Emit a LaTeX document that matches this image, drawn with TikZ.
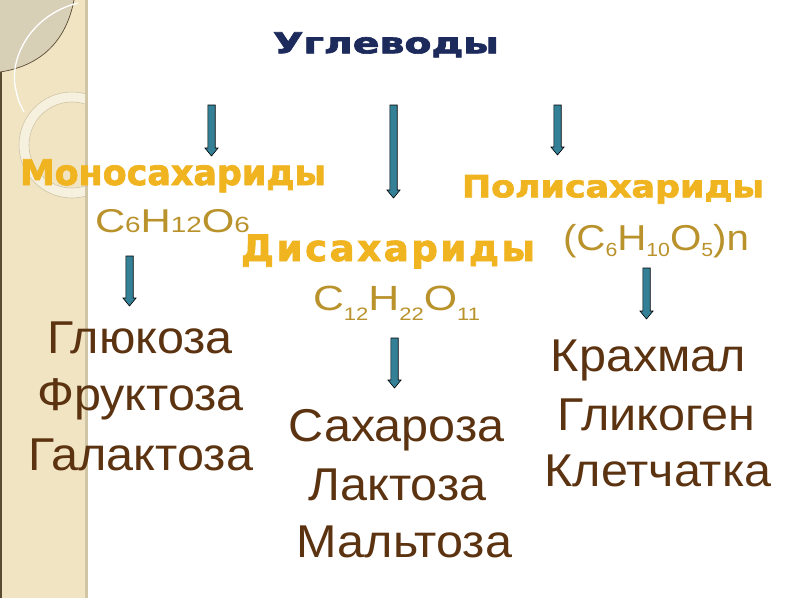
\documentclass[tikz,border=0pt]{standalone}
\usepackage{fontspec}
\usepackage{graphicx}
\setmainfont{Liberation Sans}
\newfontfamily\headfont{DejaVu Sans}[BoldFeatures={FakeBold=2.2}]
\usetikzlibrary{calc}
\definecolor{titlenavy}{RGB}{28,42,92}
\definecolor{headgold}{RGB}{240,180,32}
\definecolor{formgold}{RGB}{185,146,43}
\definecolor{bodybrown}{RGB}{92,51,17}
\definecolor{arrowteal}{RGB}{52,128,150}
\definecolor{stripbeige}{RGB}{240,228,195}
\definecolor{stripgrey}{RGB}{216,207,183}
\definecolor{stripedge}{RGB}{208,197,165}
\definecolor{stripdark}{RGB}{90,74,50}
\newcommand\barr[2]{%
  \draw[blockarrow] let \p1=(#1), \p2=(#2) in
    (\x1-3.7pt,\y1) -- (\x1+3.7pt,\y1) -- (\x1+3.7pt,\y2+8pt) --
    (\x1+6.6pt,\y2+8pt) -- (\x1,\y2) -- (\x1-6.6pt,\y2+8pt) --
    (\x1-3.7pt,\y2+8pt) -- cycle;}
\newcommand\fsz[1]{\fontsize{#1}{#1}\selectfont}
\newcommand\fsb[3]{\raisebox{-#3}{\fsz{#2}#1}}
\newcommand\bodystretch[1]{\scalebox{1.055}[1]{#1}}
\tikzset{
  txt/.style={inner sep=0pt, outer sep=0pt},
  titletxt/.style={txt, text=titlenavy},
  headtxt/.style={txt, text=headgold},
  formtxt/.style={txt, text=formgold},
  bodytxt/.style={txt, text=bodybrown, font=\fsz{46}, anchor=base},
  blockarrow/.style={fill=arrowteal, draw=black, line width=0.6pt, line join=miter}
}
\begin{document}
\begin{tikzpicture}[x=1pt,y=-1pt]
\useasboundingbox (0,0) rectangle (800,600);
\fill[white] (0,0) rectangle (800,600);
% decorative strip
\fill[stripbeige] (0,0) rectangle (86,598);
\fill[stripedge] (84.5,0) rectangle (88,598);
\fill[stripgrey] (0,0) -- (74,0) .. controls (66,42) and (40,66) .. (0,72) -- cycle;
\draw[stripdark, line width=0.7pt] (74,0) .. controls (66,42) and (40,66) .. (0,72);
\fill[stripdark] (0,72) rectangle (1.5,598);
\begin{scope}
  \clip (0,0) rectangle (85,598);
  \fill[white, opacity=0.45, even odd rule] (72,145) circle[radius=53] (72,145) circle[radius=43];
  \draw[stripedge, line width=0.6pt] (72,145) circle[radius=53] (72,145) circle[radius=43];
  \draw[white, line width=1.3pt] (78,3) .. controls (30,15) and (8,60) .. (16,90) .. controls (18,100) .. (24,112);
\end{scope}
% title
\node[titletxt, anchor=base west] (title) at (273,53.3) {\resizebox{226pt}{\height}{\headfont\bfseries\fsz{28.8}Углеводы}};
% headings
\node[headtxt, anchor=base west] (mono) at (20,185) {\resizebox{306pt}{\height}{\headfont\bfseries\fsz{35.3}Моносахариды}};
\node[headtxt, anchor=base west] (di) at (241,261) {\resizebox{294pt}{\height}{\headfont\bfseries\fsz{36.4}Д\kern2.5pt и\kern2.5pt с\kern2.5pt а\kern2.5pt х\kern2.5pt а\kern2.5pt р\kern2.5pt и\kern2.5pt д\kern2.5pt ы}};
\node[headtxt, anchor=base west] (poly) at (462,197.3) {\resizebox{302pt}{\height}{\headfont\bfseries\fsz{30.6}Полисахариды}};
% formulas
\node[formtxt, anchor=base west] (monof) at (95,232) {\resizebox{155pt}{\height}{\fsz{33}C{\fsz{22}6}H{\fsz{22}12}O{\fsz{22}6}}};
\node[formtxt, anchor=base west] (dif) at (313,310) {\resizebox{167pt}{\height}{\fsz{35}C\fsb{12}{18}{10pt}H\fsb{22}{18}{10pt}O\fsb{11}{18}{10pt}}};
\node[formtxt, anchor=base west] (polyf) at (563,250.7) {\resizebox{186pt}{\height}{\fsz{36}(C\fsb{6}{19}{6pt}H\fsb{10}{19}{6pt}O\fsb{5}{19}{6pt})n}};
% examples
\node[bodytxt] (glu) at (140,353.3) {\bodystretch{Глюкоза}};
\node[bodytxt] (fru) at (140.5,410.5) {\bodystretch{Фруктоза}};
\node[bodytxt] (gal) at (140.5,470.5) {\bodystretch{Галактоза}};
\node[bodytxt] (sac) at (396.5,441.5) {\bodystretch{Сахароза}};
\node[bodytxt] (lac) at (397.5,500) {\bodystretch{Лактоза}};
\node[bodytxt] (mal) at (404.5,557) {\bodystretch{Мальтоза}};
\node[bodytxt] (kra) at (648.5,371.7) {\bodystretch{Крахмал}};
\node[bodytxt] (gly) at (656.5,430) {\bodystretch{Гликоген}};
\node[bodytxt] (kle) at (658,486.7) {\bodystretch{Клетчатка}};
% arrows
\coordinate (a1s) at (211.5,105); \coordinate (a1e) at (211.5,156);
\coordinate (a2s) at (393.5,105); \coordinate (a2e) at (393.5,198);
\coordinate (a3s) at (557.5,105); \coordinate (a3e) at (557.5,155);
\coordinate (a4s) at (129.5,256); \coordinate (a4e) at (129.5,306);
\coordinate (a5s) at (394.5,338); \coordinate (a5e) at (394.5,388);
\coordinate (a6s) at (646.5,268); \coordinate (a6e) at (646.5,319);
\barr{a1s}{a1e}
\barr{a2s}{a2e}
\barr{a3s}{a3e}
\barr{a4s}{a4e}
\barr{a5s}{a5e}
\barr{a6s}{a6e}
\end{tikzpicture}
\end{document}
